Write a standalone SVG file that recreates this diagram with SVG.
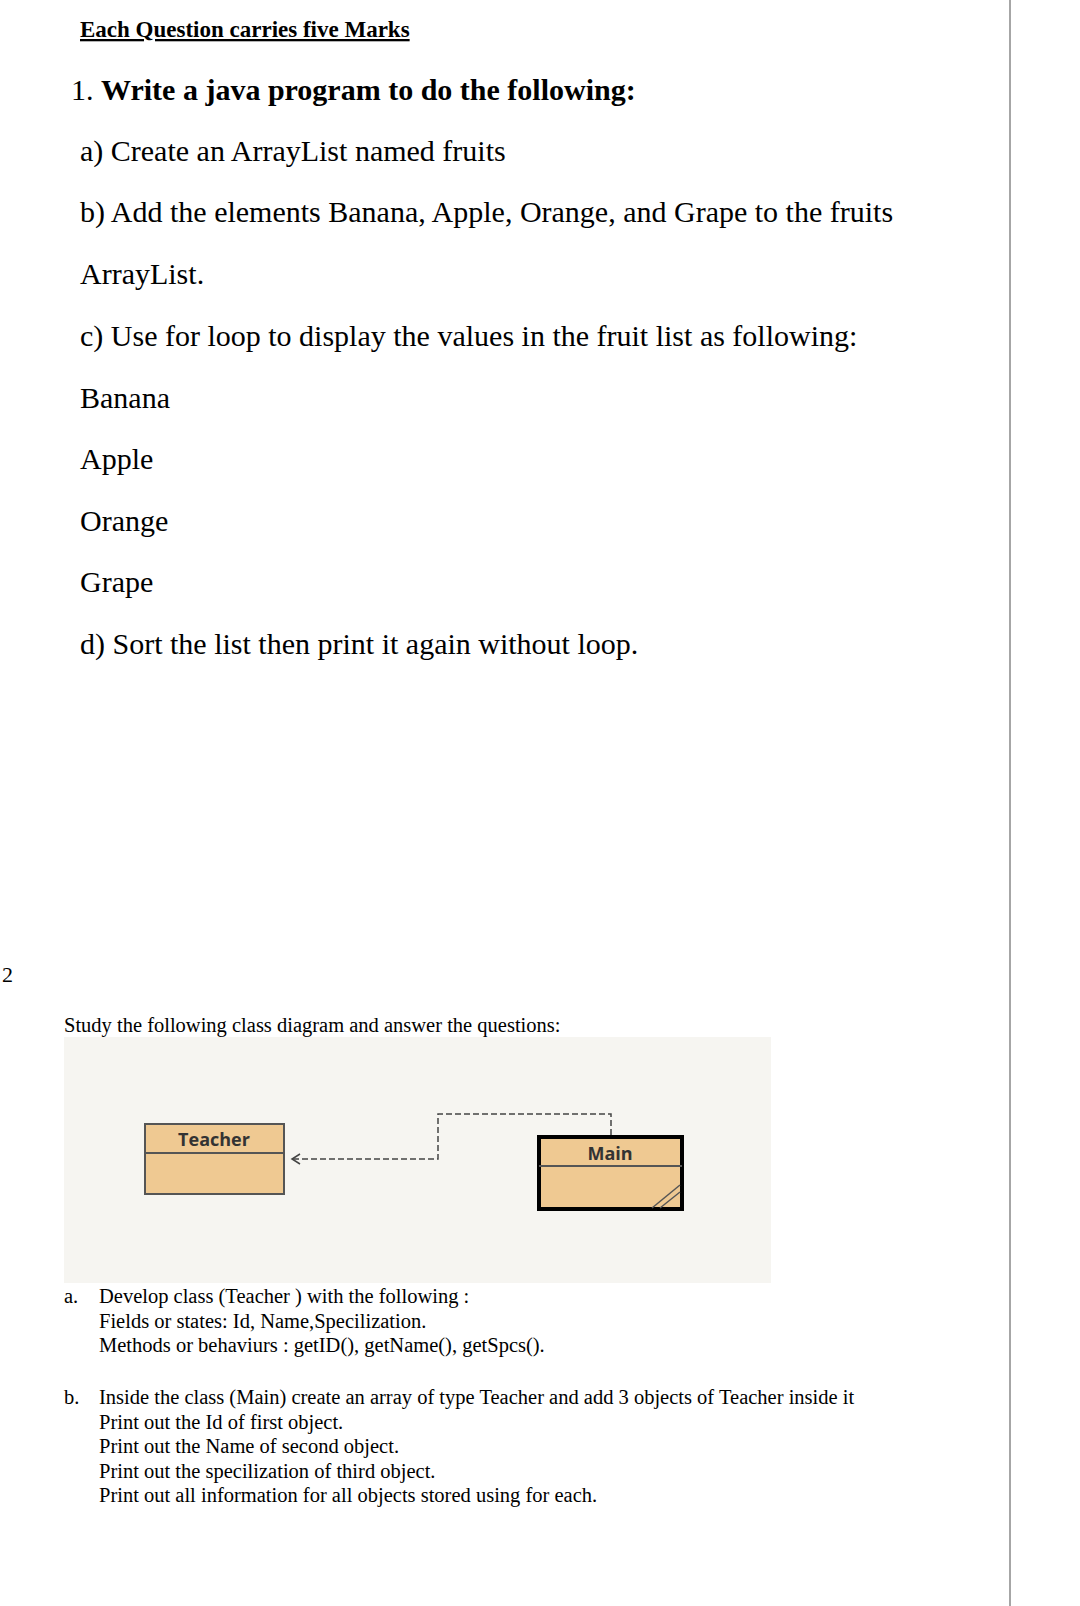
<svg xmlns="http://www.w3.org/2000/svg" width="1080" height="1606" viewBox="0 0 1080 1606">
<style>
.t{font-family:"Liberation Serif",serif;font-size:30px;fill:#000}
.s{font-family:"Liberation Serif",serif;font-size:20.5px;fill:#000}
.n{font-family:"Open Sans","DejaVu Sans",sans-serif;font-size:18px;font-weight:bold;fill:#333}
</style>
<rect width="1080" height="1606" fill="#fff"/>
<line x1="1010" y1="0" x2="1010" y2="1606" stroke="#888" stroke-width="1.5"/>
<text x="80" y="37" class="t" style="font-size:23px;font-weight:bold;text-decoration:underline">Each Question carries five Marks</text>
<text x="71" y="100" class="t"><tspan>1. </tspan><tspan font-weight="bold">Write a java program to do the following:</tspan></text>
<text x="80" y="161" class="t">a) Create an ArrayList named fruits</text>
<text x="80" y="222" class="t">b) Add the elements Banana, Apple, Orange, and Grape to the fruits</text>
<text x="80" y="284" class="t">ArrayList.</text>
<text x="80" y="346" class="t">c) Use for loop to display the values in the fruit list as following:</text>
<text x="80" y="408" class="t">Banana</text>
<text x="80" y="469" class="t">Apple</text>
<text x="80" y="531" class="t">Orange</text>
<text x="80" y="592" class="t">Grape</text>
<text x="80" y="654" class="t">d) Sort the list then print it again without loop.</text>
<text x="2" y="982" class="s" style="font-size:22px">2</text>
<text x="64" y="1032" class="s">Study the following class diagram and answer the questions:</text>
<rect x="64" y="1037" width="707" height="246" fill="#f6f5f1"/>
<g id="connectors" fill="none" stroke="#444" stroke-width="1.5" stroke-dasharray="6,3">
<polyline points="611,1135 611,1114 438,1114 438,1159 292,1159"/>
<polyline points="300,1154 292,1159 300,1164" stroke-dasharray="none"/>
</g>
<g id="teacher">
<rect x="145" y="1124" width="139" height="70" fill="#efc992" stroke="#555" stroke-width="2"/>
<line x1="145" y1="1153" x2="284" y2="1153" stroke="#555" stroke-width="2"/>
<text x="214" y="1146" class="n" text-anchor="middle">Teacher</text>
</g>
<g id="main">
<rect x="539" y="1137" width="143" height="72" fill="#efc992" stroke="#000" stroke-width="4"/>
<line x1="539" y1="1166" x2="682" y2="1166" stroke="#555" stroke-width="2"/>
<text x="610" y="1160" class="n" text-anchor="middle">Main</text>
<line x1="652" y1="1208" x2="680" y2="1185" stroke="#555" stroke-width="1.5"/>
<line x1="660" y1="1208" x2="680" y2="1192" stroke="#555" stroke-width="1.5"/>
</g>
<text x="64" y="1303" class="s">a.</text>
<text x="99" y="1303" class="s">Develop class  (Teacher ) with the following :</text>
<text x="99" y="1328" class="s">Fields or states: Id, Name,Specilization.</text>
<text x="99" y="1352" class="s">Methods or behaviurs : getID(), getName(), getSpcs().</text>
<text x="64" y="1404" class="s">b.</text>
<text x="99" y="1404" class="s">Inside  the class (Main) create an array of type Teacher and add 3 objects of Teacher inside it</text>
<text x="99" y="1429" class="s">Print out the Id of first object.</text>
<text x="99" y="1453" class="s">Print out the Name of second object.</text>
<text x="99" y="1478" class="s">Print out the specilization of third object.</text>
<text x="99" y="1502" class="s">Print out all information for all objects stored using for each.</text>
</svg>
